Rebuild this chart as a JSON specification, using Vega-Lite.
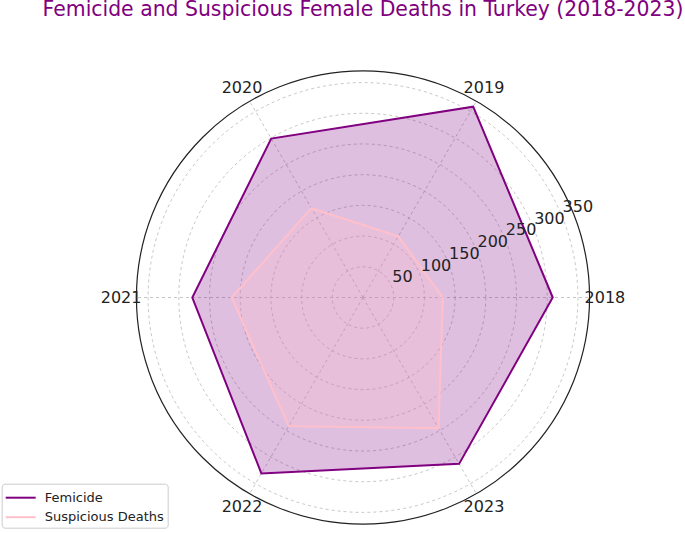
{
  "$schema": "https://vega.github.io/schema/vega-lite/v6.json",
  "width": 614,
  "height": 491,
  "autosize": {"type": "none"},
  "padding": {"left": 56, "top": 52, "right": 15, "bottom": 0},
  "background": "white",
  "config": {"view": {"stroke": null}, "font": "DejaVu Sans"},
  "title": {
    "text": "Femicide and Suspicious Female Deaths in Turkey (2018-2023)",
    "color": "#800080",
    "fontSize": 20.4,
    "fontWeight": "normal",
    "font": "DejaVu Sans",
    "anchor": "middle",
    "frame": "group",
    "baseline": "alphabetic",
    "offset": 16
  },
  "datasets": {
    "radar": [
      {"year": "2018", "series": "Femicide", "value": 309},
      {"year": "2019", "series": "Femicide", "value": 359},
      {"year": "2020", "series": "Femicide", "value": 299},
      {"year": "2021", "series": "Femicide", "value": 278},
      {"year": "2022", "series": "Femicide", "value": 331},
      {"year": "2023", "series": "Femicide", "value": 313},
      {"year": "2018", "series": "Suspicious Deaths", "value": 130},
      {"year": "2019", "series": "Suspicious Deaths", "value": 115},
      {"year": "2020", "series": "Suspicious Deaths", "value": 168},
      {"year": "2021", "series": "Suspicious Deaths", "value": 214},
      {"year": "2022", "series": "Suspicious Deaths", "value": 242},
      {"year": "2023", "series": "Suspicious Deaths", "value": 246}
    ],
    "grid": [{"r": 50}, {"r": 100}, {"r": 150}, {"r": 200}, {"r": 250}, {"r": 300}, {"r": 350}],
    "outer": [{"r": 369}],
    "years": [{"year": "2018"}, {"year": "2019"}, {"year": "2020"}, {"year": "2021"}, {"year": "2022"}, {"year": "2023"}]
  },
  "layer": [
    {
      "data": {"name": "grid"},
      "transform": [{"calculate": "0", "as": "c"}],
      "mark": {"type": "point", "shape": "circle", "filled": false, "stroke": "#b8b8b8", "strokeDash": [3, 3], "strokeWidth": 0.8, "opacity": 1},
      "encoding": {
        "x": {"field": "c", "type": "quantitative", "scale": {"domain": [-500, 500], "nice": false, "zero": false}, "axis": null},
        "y": {"field": "c", "type": "quantitative", "scale": {"domain": [-400, 400], "nice": false, "zero": false}, "axis": null},
        "size": {"field": "r", "type": "quantitative", "scale": {"type": "pow", "exponent": 2, "domain": [0, 400], "range": [0, 241277], "zero": true, "nice": false}, "legend": null}
      }
    },
    {
      "data": {"name": "outer"},
      "transform": [{"calculate": "0", "as": "c"}],
      "mark": {"type": "point", "shape": "circle", "filled": false, "stroke": "#222222", "strokeWidth": 1.2, "opacity": 1},
      "encoding": {
        "x": {"field": "c", "type": "quantitative", "scale": {"domain": [-500, 500], "nice": false, "zero": false}, "axis": null},
        "y": {"field": "c", "type": "quantitative", "scale": {"domain": [-400, 400], "nice": false, "zero": false}, "axis": null},
        "size": {"field": "r", "type": "quantitative", "scale": {"type": "pow", "exponent": 2, "domain": [0, 400], "range": [0, 241277], "zero": true, "nice": false}, "legend": null}
      }
    },
    {
      "data": {"name": "years"},
      "transform": [
        {"calculate": "0", "as": "c"},
        {"calculate": "(toNumber(datum.year)-2018)*PI/3", "as": "a"},
        {"calculate": "369*cos(datum.a)", "as": "xe"},
        {"calculate": "369*sin(datum.a)", "as": "ye"}
      ],
      "mark": {"type": "rule", "stroke": "#b8b8b8", "strokeDash": [3, 3], "strokeWidth": 0.8},
      "encoding": {
        "x": {"field": "c", "type": "quantitative", "scale": {"domain": [-500, 500], "nice": false, "zero": false}, "axis": null},
        "y": {"field": "c", "type": "quantitative", "scale": {"domain": [-400, 400], "nice": false, "zero": false}, "axis": null},
        "x2": {"field": "xe"},
        "y2": {"field": "ye"}
      }
    },
    {
      "data": {"name": "radar"},
      "transform": [
        {"calculate": "(toNumber(datum.year)-2018)*PI/3", "as": "a"},
        {"calculate": "datum.value*cos(datum.a)", "as": "px"},
        {"calculate": "datum.value*sin(datum.a)", "as": "py"}
      ],
      "mark": {"type": "line", "interpolate": "linear-closed", "strokeWidth": 2, "fillOpacity": 0.25},
      "encoding": {
        "x": {"field": "px", "type": "quantitative", "scale": {"domain": [-500, 500], "nice": false, "zero": false}, "axis": null},
        "y": {"field": "py", "type": "quantitative", "scale": {"domain": [-400, 400], "nice": false, "zero": false}, "axis": null},
        "order": {"field": "a", "type": "quantitative"},
        "color": {
          "field": "series", "type": "nominal",
          "scale": {"domain": ["Femicide", "Suspicious Deaths"], "range": ["#800080", "#ffc0cb"]},
          "legend": {
            "title": null, "orient": "none", "legendX": -54.3, "legendY": 431.7,
            "symbolType": "M-1.5,0H1.5", "symbolSize": 400, "symbolStrokeWidth": 2, "symbolOffset": 5,
            "labelFontSize": 13, "labelFont": "DejaVu Sans", "labelColor": "#222222", "labelOffset": 13,
            "strokeColor": "#cccccc", "padding": 3, "cornerRadius": 3, "fillColor": "white", "rowPadding": 1.5
          }
        },
        "fill": {
          "field": "series", "type": "nominal",
          "scale": {"domain": ["Femicide", "Suspicious Deaths"], "range": ["#800080", "#ffc0cb"]},
          "legend": null
        }
      }
    },
    {
      "data": {"name": "grid"},
      "transform": [
        {"calculate": "datum.r*cos(PI/8)", "as": "tx"},
        {"calculate": "datum.r*sin(PI/8)", "as": "ty"}
      ],
      "mark": {"type": "text", "align": "left", "baseline": "alphabetic", "dx": 1, "dy": -3.5, "fontSize": 16, "color": "#222222"},
      "encoding": {
        "x": {"field": "tx", "type": "quantitative", "scale": {"domain": [-500, 500], "nice": false, "zero": false}, "axis": null},
        "y": {"field": "ty", "type": "quantitative", "scale": {"domain": [-400, 400], "nice": false, "zero": false}, "axis": null},
        "text": {"field": "r", "type": "nominal"}
      }
    },
    {
      "data": {"name": "years"},
      "transform": [
        {"calculate": "(toNumber(datum.year)-2018)*PI/3", "as": "a"},
        {"calculate": "394*cos(datum.a)", "as": "tx"},
        {"calculate": "394*sin(datum.a)", "as": "ty"}
      ],
      "mark": {"type": "text", "align": "center", "baseline": "middle", "fontSize": 16, "color": "#222222"},
      "encoding": {
        "x": {"field": "tx", "type": "quantitative", "scale": {"domain": [-500, 500], "nice": false, "zero": false}, "axis": null},
        "y": {"field": "ty", "type": "quantitative", "scale": {"domain": [-400, 400], "nice": false, "zero": false}, "axis": null},
        "text": {"field": "year", "type": "nominal"}
      }
    }
  ]
}
